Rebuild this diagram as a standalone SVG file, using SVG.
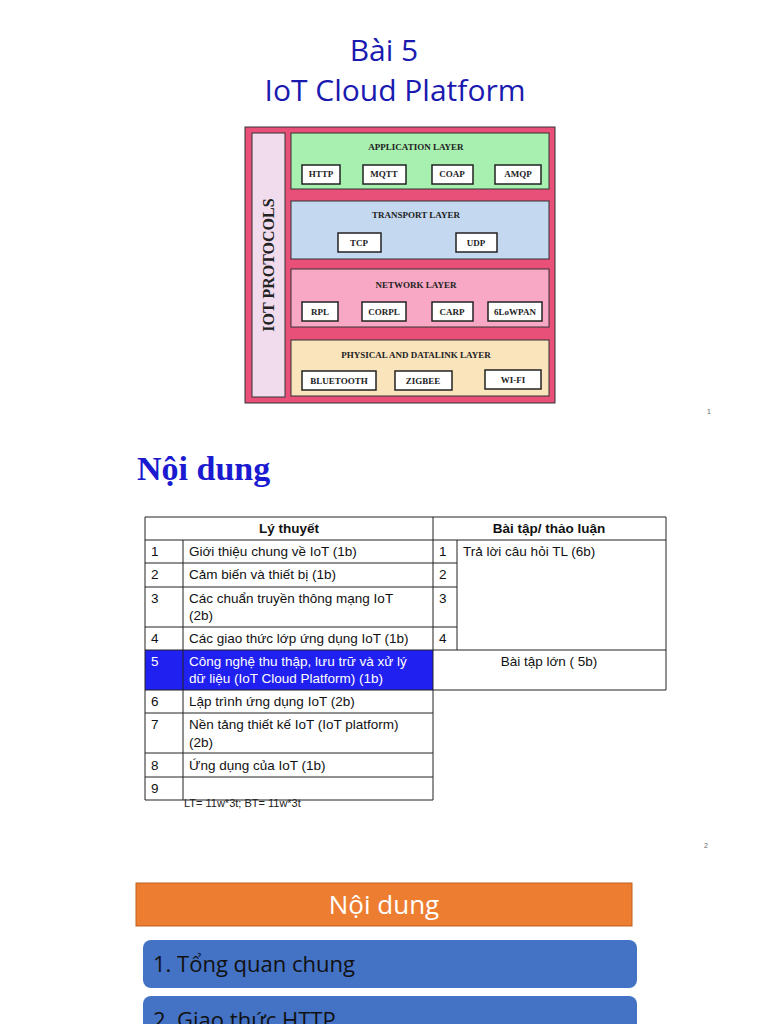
<svg xmlns="http://www.w3.org/2000/svg" width="768" height="1024" viewBox="0 0 768 1024">
<style>
.t{font-family:"Times New Roman","Liberation Serif",serif;font-weight:bold;font-size:9px;text-anchor:middle;fill:#222}
.b{fill:#fff;stroke:#222;stroke-width:1.5}
.c{font-family:Arial,"Liberation Sans",sans-serif;font-size:13.5px;fill:#111}
.g{fill:none;stroke:#222;stroke-width:1}
.tt{font-family:"Open Sans","Noto Sans",sans-serif;font-size:30px;text-anchor:middle;fill:#1a1ab0}
</style>
<rect width="768" height="1024" fill="#fff"/>
<text class="tt" x="384" y="61">Bài 5</text>
<text class="tt" x="395" y="101">IoT Cloud Platform</text>
<g id="stack">
<rect x="245" y="127" width="310" height="276" fill="#e8507a" stroke="#333"/>
<rect x="252" y="133" width="33" height="264" fill="#f0dcec" stroke="#333"/>
<text x="274" y="265" class="t" style="font-size:16px" transform="rotate(-90 274 265)">IOT PROTOCOLS</text>
<rect x="291" y="133" width="258" height="56" fill="#a8f0b0" stroke="#333"/>
<text class="t" x="416" y="150">APPLICATION LAYER</text>
<rect x="291" y="201" width="258" height="58" fill="#c4d8f0" stroke="#333"/>
<text class="t" x="416" y="218">TRANSPORT LAYER</text>
<rect x="291" y="269" width="258" height="58" fill="#f8a8c4" stroke="#333"/>
<text class="t" x="416" y="288">NETWORK LAYER</text>
<rect x="291" y="340" width="258" height="56" fill="#fae4bc" stroke="#333"/>
<text class="t" x="416" y="358">PHYSICAL AND DATALINK LAYER</text>
<rect class="b" x="302" y="165" width="38" height="19"/><text class="t" x="321" y="177">HTTP</text>
<rect class="b" x="363" y="165" width="43" height="19"/><text class="t" x="384" y="177">MQTT</text>
<rect class="b" x="432" y="165" width="41" height="19"/><text class="t" x="452" y="177">COAP</text>
<rect class="b" x="495" y="165" width="46" height="19"/><text class="t" x="518" y="177">AMQP</text>
<rect class="b" x="338" y="233" width="43" height="19"/><text class="t" x="359" y="246">TCP</text>
<rect class="b" x="456" y="233" width="41" height="19"/><text class="t" x="476" y="246">UDP</text>
<rect class="b" x="302" y="302" width="36" height="19"/><text class="t" x="320" y="315">RPL</text>
<rect class="b" x="362" y="302" width="44" height="19"/><text class="t" x="384" y="315">CORPL</text>
<rect class="b" x="432" y="302" width="41" height="19"/><text class="t" x="452" y="315">CARP</text>
<rect class="b" x="488" y="302" width="54" height="19"/><text class="t" x="515" y="315">6LoWPAN</text>
<rect class="b" x="302" y="371" width="74" height="19"/><text class="t" x="339" y="384">BLUETOOTH</text>
<rect class="b" x="395" y="371" width="57" height="19"/><text class="t" x="423" y="384">ZIGBEE</text>
<rect class="b" x="485" y="370" width="56" height="19"/><text class="t" x="513" y="383">WI-FI</text>
</g>
<text x="707" y="414" font-family="Liberation Sans,sans-serif" font-size="7" fill="#666">1</text>
<text x="137" y="480" font-family="Times New Roman,Liberation Serif,serif" font-weight="bold" font-size="34" fill="#1a1ad0">Nội dung</text>
<g id="table">
<rect x="145" y="650" width="288" height="40" fill="#2020f0"/>
<path class="g" d="M145 517H666M145 540H666M145 563H457M145 587H457M145 627H457M145 650H666M145 690H666M145 713H433M145 753H433M145 777H433M145 800H433
M145 517V800M183 540V800M433 517V800M457 540V650M666 517V690"/>
<g class="c" font-weight="bold" text-anchor="middle"><text x="289" y="533">Lý thuyết</text><text x="549" y="533">Bài tập/ thảo luận</text></g>
<g class="c">
<text x="151" y="556">1</text><text x="189" y="556">Giới thiệu chung về IoT (1b)</text>
<text x="151" y="579">2</text><text x="189" y="579">Cảm biến và thiết bị (1b)</text>
<text x="151" y="603">3</text><text x="189" y="603">Các chuẩn truyền thông mạng IoT</text><text x="189" y="620">(2b)</text>
<text x="151" y="643">4</text><text x="189" y="643">Các giao thức lớp ứng dụng IoT (1b)</text>
<text x="151" y="666" fill="#fff">5</text><text x="189" y="666" fill="#fff">Công nghệ thu thập, lưu trữ và xử lý</text><text x="189" y="683" fill="#fff">dữ liệu (IoT Cloud Platform) (1b)</text>
<text x="151" y="706">6</text><text x="189" y="706">Lập trình ứng dụng IoT (2b)</text>
<text x="151" y="729">7</text><text x="189" y="729">Nền tảng thiết kế IoT (IoT platform)</text><text x="189" y="747">(2b)</text>
<text x="151" y="770">8</text><text x="189" y="770">Ứng dụng của IoT (1b)</text>
<text x="151" y="793">9</text>
<text x="439" y="556">1</text><text x="439" y="579">2</text><text x="439" y="603">3</text><text x="439" y="643">4</text>
<text x="463" y="556">Trả lời câu hỏi TL (6b)</text>
<text x="549" y="666" text-anchor="middle">Bài tập lớn ( 5b)</text>
</g>
<text x="184" y="807" font-family="Liberation Sans,sans-serif" font-size="11" fill="#222">LT= 11w*3t; BT= 11w*3t</text>
</g>
<text x="704" y="848" font-family="Liberation Sans,sans-serif" font-size="7" fill="#666">2</text>
<g id="menu">
<rect x="136" y="883" width="496" height="43" fill="#ed7d31" stroke="#c06020"/>
<text x="384" y="914" text-anchor="middle" font-family="Open Sans,sans-serif" font-size="26" fill="#fff">Nội dung</text>
<rect x="143" y="940" width="494" height="48" rx="8" fill="#4472c4"/>
<text x="153" y="972" font-family="Open Sans,sans-serif" font-size="22" fill="#111">1. Tổng quan chung</text>
<rect x="143" y="996" width="494" height="48" rx="8" fill="#4472c4"/>
<text x="153" y="1028" font-family="Open Sans,sans-serif" font-size="22" fill="#111">2. Giao thức HTTP</text>
</g>
</svg>
